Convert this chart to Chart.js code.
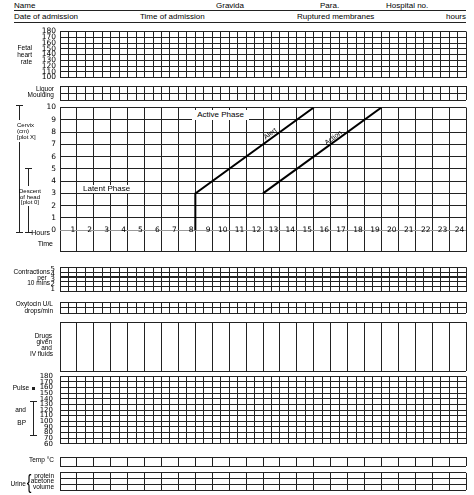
<!DOCTYPE html>
<html><head><meta charset="utf-8">
<script src="https://cdn.jsdelivr.net/npm/chart.js@4.4.1/dist/chart.umd.min.js"></script>
<style>
html,body{margin:0;padding:0;background:#fff;}
#wrap{position:relative;width:474px;height:495px;overflow:hidden;background:#fff;}
canvas{position:absolute;left:0;}
.t{position:absolute;white-space:nowrap;font-family:"Liberation Sans",Arial,sans-serif;color:#000;}
.ln{position:absolute;background:#222;}
</style></head><body><div id="wrap"></div>
<script>
// ---------------- data ----------------
const hourLabels = ['1','2','3','4','5','6','7','8','9','10','11','12','13','14','15','16','17','18','19','20','21','22','23','24'];
const hourValues = [1,2,3,4,5,6,7,8,9,10,11,12,13,14,15,16,17,18,19,20,21,22,23,24];
const fhrTicks = [180,170,160,150,140,130,120,110,100];
const cervixTicks = [10,9,8,7,6,5,4,3,2,1,0];
const alertHours = [8, 8, 15];
const alertCm = [0, 3, 10];
const actionHours = [12, 19];
const actionCm = [3, 10];
const contractionLabels = ['5','4','3','2','1'];
const pulseTicks = [180,170,160,150,140,130,120,110,100,90,80,70,60];
const urineRows = ['protein','acetone','volume'];

// grid positions (hours)
const wholeHours = [0].concat(hourValues);
const halfHours = [];
wholeHours.forEach(h => { halfHours.push(h); if (h < 24) halfHours.push(h + 0.5); });

const wrap = document.getElementById('wrap');
const GRID = '#222';
const TICKFONT = {family: 'DejaVu Sans', size: 7.5};

function panel(top, bottom, o) {
  const padT = 6, padB = 6;
  const cv = document.createElement('canvas');
  cv.width = 474; cv.height = bottom - top + padT + padB;
  cv.style.top = (top - padT) + 'px';
  wrap.appendChild(cv);
  const xt = o.half ? halfHours : wholeHours;
  const scales = {
    x: {type: 'linear', min: 0, max: 24, position: 'bottom',
      afterBuildTicks: s => { s.ticks = xt.map(v => ({value: v})); },
      ticks: {display: false, autoSkip: false},
      grid: {color: GRID, lineWidth: 1, drawTicks: false, tickLength: 0},
      border: {display: false}},
    y: o.y
  };
  Object.assign(scales, o.extra || {});
  return new Chart(cv, {
    type: 'line',
    data: {datasets: o.datasets || []},
    options: {
      responsive: false, animation: false, events: [],
      layout: {padding: {top: padT, bottom: padB, left: 0, right: 8}},
      plugins: {legend: {display: false}, tooltip: {enabled: false}},
      scales
    }
  });
}
function yLin(min, max, ticks, labelled, pad, font, colorFn) {
  return {type: 'linear', min, max, position: 'left',
    afterFit: s => { s.width = 60; },
    afterBuildTicks: s => { s.ticks = ticks.map(v => ({value: v})); },
    ticks: {display: labelled, autoSkip: false, padding: pad || 4, font: font || TICKFONT, color: '#000',
      callback: v => (v < 0 ? '' : String(v))},
    grid: {color: colorFn || GRID, drawTicks: false, tickLength: 0},
    border: {display: false}};
}
function yCat(labels, pad, font, lwFn) {
  return {type: 'category', labels, offset: true, position: 'left',
    afterFit: s => { s.width = 60; },
    ticks: {autoSkip: false, padding: pad, font, color: '#000'},
    grid: {offset: true, color: GRID, drawTicks: false, tickLength: 0, lineWidth: lwFn || 1},
    border: {display: false}};
}

// Fetal heart rate
panel(29, 80, {half: true, y: yLin(100, 180, fhrTicks, true, 4)});
// Liquor / moulding
panel(86, 100, {half: true, y: yLin(0, 2, [0, 1, 2], false)});
// Cervix / descent
const cervMin = -1.732;
panel(105, 254, {
  half: false,
  y: yLin(cervMin, 10, cervixTicks.concat([cervMin]), true, 4, TICKFONT,
     c => (c.tick && c.tick.value === 0 ? '#9a9a9a' : GRID)),
  extra: {
    xh: {type: 'linear', axis: 'x', min: 0, max: 24, position: {y: 0.38},
      afterBuildTicks: s => { s.ticks = hourValues.map(v => ({value: v - 0.1})); },
      ticks: {autoSkip: false, align: 'end', padding: 0, maxRotation: 0, minRotation: 0,
        font: TICKFONT, color: '#000', callback: (v, i) => hourLabels[i]},
      grid: {display: false, drawTicks: false, tickLength: 0}, border: {display: false}}
  },
  datasets: [
    {data: alertHours.map((h, i) => ({x: h, y: alertCm[i]})), borderColor: '#000', borderWidth: 2,
     pointRadius: 0, tension: 0, fill: false, xAxisID: 'x', yAxisID: 'y'},
    {data: actionHours.map((h, i) => ({x: h, y: actionCm[i]})), borderColor: '#000', borderWidth: 2,
     pointRadius: 0, tension: 0, fill: false, xAxisID: 'x', yAxisID: 'y'}
  ]
});
// Contractions
panel(264, 295, {half: true, y: yCat(contractionLabels, 5, {family: 'DejaVu Sans', size: 7}, c => (c.index === 2 ? 2 : 1))});
// Oxytocin
panel(302, 313, {half: true, y: yLin(0, 2, [0, 1, 2], false)});
// Drugs
panel(322, 371, {half: false, y: yLin(0, 1, [0, 1], false)});
// Pulse and BP
panel(371, 449, {half: true, y: yLin(60, 180, pulseTicks, true, 7, {family: 'DejaVu Sans', size: 7})});
// Temp
panel(457, 466, {half: false, y: yLin(0, 1, [0, 1], false)});
// Urine
panel(469, 494, {half: false, y: yCat(urineRows, 6, {family: 'Liberation Sans', size: 6.5})});

// ---------------- text & rules ----------------
function T(txt, x, y, al, size, extra) {
  const d = document.createElement('div');
  d.className = 't'; d.textContent = txt;
  d.style.fontSize = size + 'px'; d.style.lineHeight = size + 'px';
  d.style.top = (y - size / 2) + 'px';
  if (al === 'l') d.style.left = x + 'px';
  else if (al === 'r') d.style.right = (474 - x) + 'px';
  else { d.style.left = x + 'px'; d.style.transform = 'translateX(-50%)'; }
  if (extra) d.style.cssText += extra;
  wrap.appendChild(d);
  return d;
}
function L(x, y, w, h) {
  const d = document.createElement('div');
  d.className = 'ln';
  d.style.left = x + 'px'; d.style.top = y + 'px'; d.style.width = w + 'px'; d.style.height = h + 'px';
  wrap.appendChild(d);
}
// header
T('Name', 14, 6, 'l', 8); T('Gravida', 216, 6, 'l', 8); T('Para.', 320, 6, 'l', 8); T('Hospital no.', 386, 6, 'l', 8);
L(14, 10, 452, 1);
T('Date of admission', 14, 17, 'l', 8); T('Time of admission', 140, 17, 'l', 8);
T('Ruptured membranes', 297, 17, 'l', 8); T('hours', 466, 17, 'r', 8);
L(14, 22, 452, 1);
// FHR
T('Fetal', 32, 48, 'r', 6.5); T('heart', 32, 55, 'r', 6.5); T('rate', 32, 62, 'r', 6.5);
// Liquor
T('Liquor', 54, 89, 'r', 6.5); T('Moulding', 54, 95, 'r', 6.5);
// Cervix
T('Cervix', 17, 125, 'l', 6); T('(cm)', 17, 131, 'l', 6); T('[plot X]', 17, 137, 'l', 6);
L(19, 105, 1, 15); L(19, 142, 1, 90); L(16, 105, 7, 1); L(16, 232, 7, 1);
T('Descent', 30, 191, 'c', 6); T('of head', 30, 196.5, 'c', 6); T('[plot 0]', 30, 202, 'c', 6);
L(28, 168, 1, 18); L(28, 206, 1, 26); L(25, 168, 7, 1); L(25, 232, 7, 1);
T('Hours', 50, 232, 'r', 7); T('Time', 53, 243, 'r', 7);
T('Active Phase', 192, 115, 'l', 8, 'background:#fff;width:57px;text-align:center;height:10px;line-height:10px;top:110px;');
T('Latent Phase', 82, 189, 'l', 8, 'background:#fff;padding:0 1px;');
T('Alert', 270, 133, 'c', 7, 'transform:translate(-50%,0) rotate(-37deg);');
T('Action', 333, 137, 'c', 7, 'transform:translate(-50%,0) rotate(-37deg);');
// contractions
T('Contractions', 50, 272, 'r', 6.5); T('per', 42, 278, 'c', 6.5); T('10 mins', 50, 283, 'r', 6.5);
// oxytocin
T('Oxytocin U/L', 53, 304, 'r', 6.5); T('drops/min', 53, 311, 'r', 6.5);
// drugs
T('Drugs', 52, 336, 'r', 6.5); T('given', 52, 342, 'r', 6.5); T('and', 52, 348, 'r', 6.5); T('IV fluids', 53, 354, 'r', 6.5);
// pulse & BP
T('Pulse', 29, 388, 'r', 6.5); L(32, 386.5, 3, 3);
T('and', 26, 410, 'r', 6.5); T('BP', 26, 423, 'r', 6.5);
L(33, 401, 1, 34); L(30, 401, 7, 1); L(30, 435, 7, 1);
// temp
T('Temp \u00B0C', 54, 460, 'r', 6.5);
// urine
T('Urine', 26, 484, 'r', 6.5);
T('{', 29, 482, 'c', 20, 'transform:translateX(-50%) scaleX(0.7);font-weight:300;');
</script></body></html>
